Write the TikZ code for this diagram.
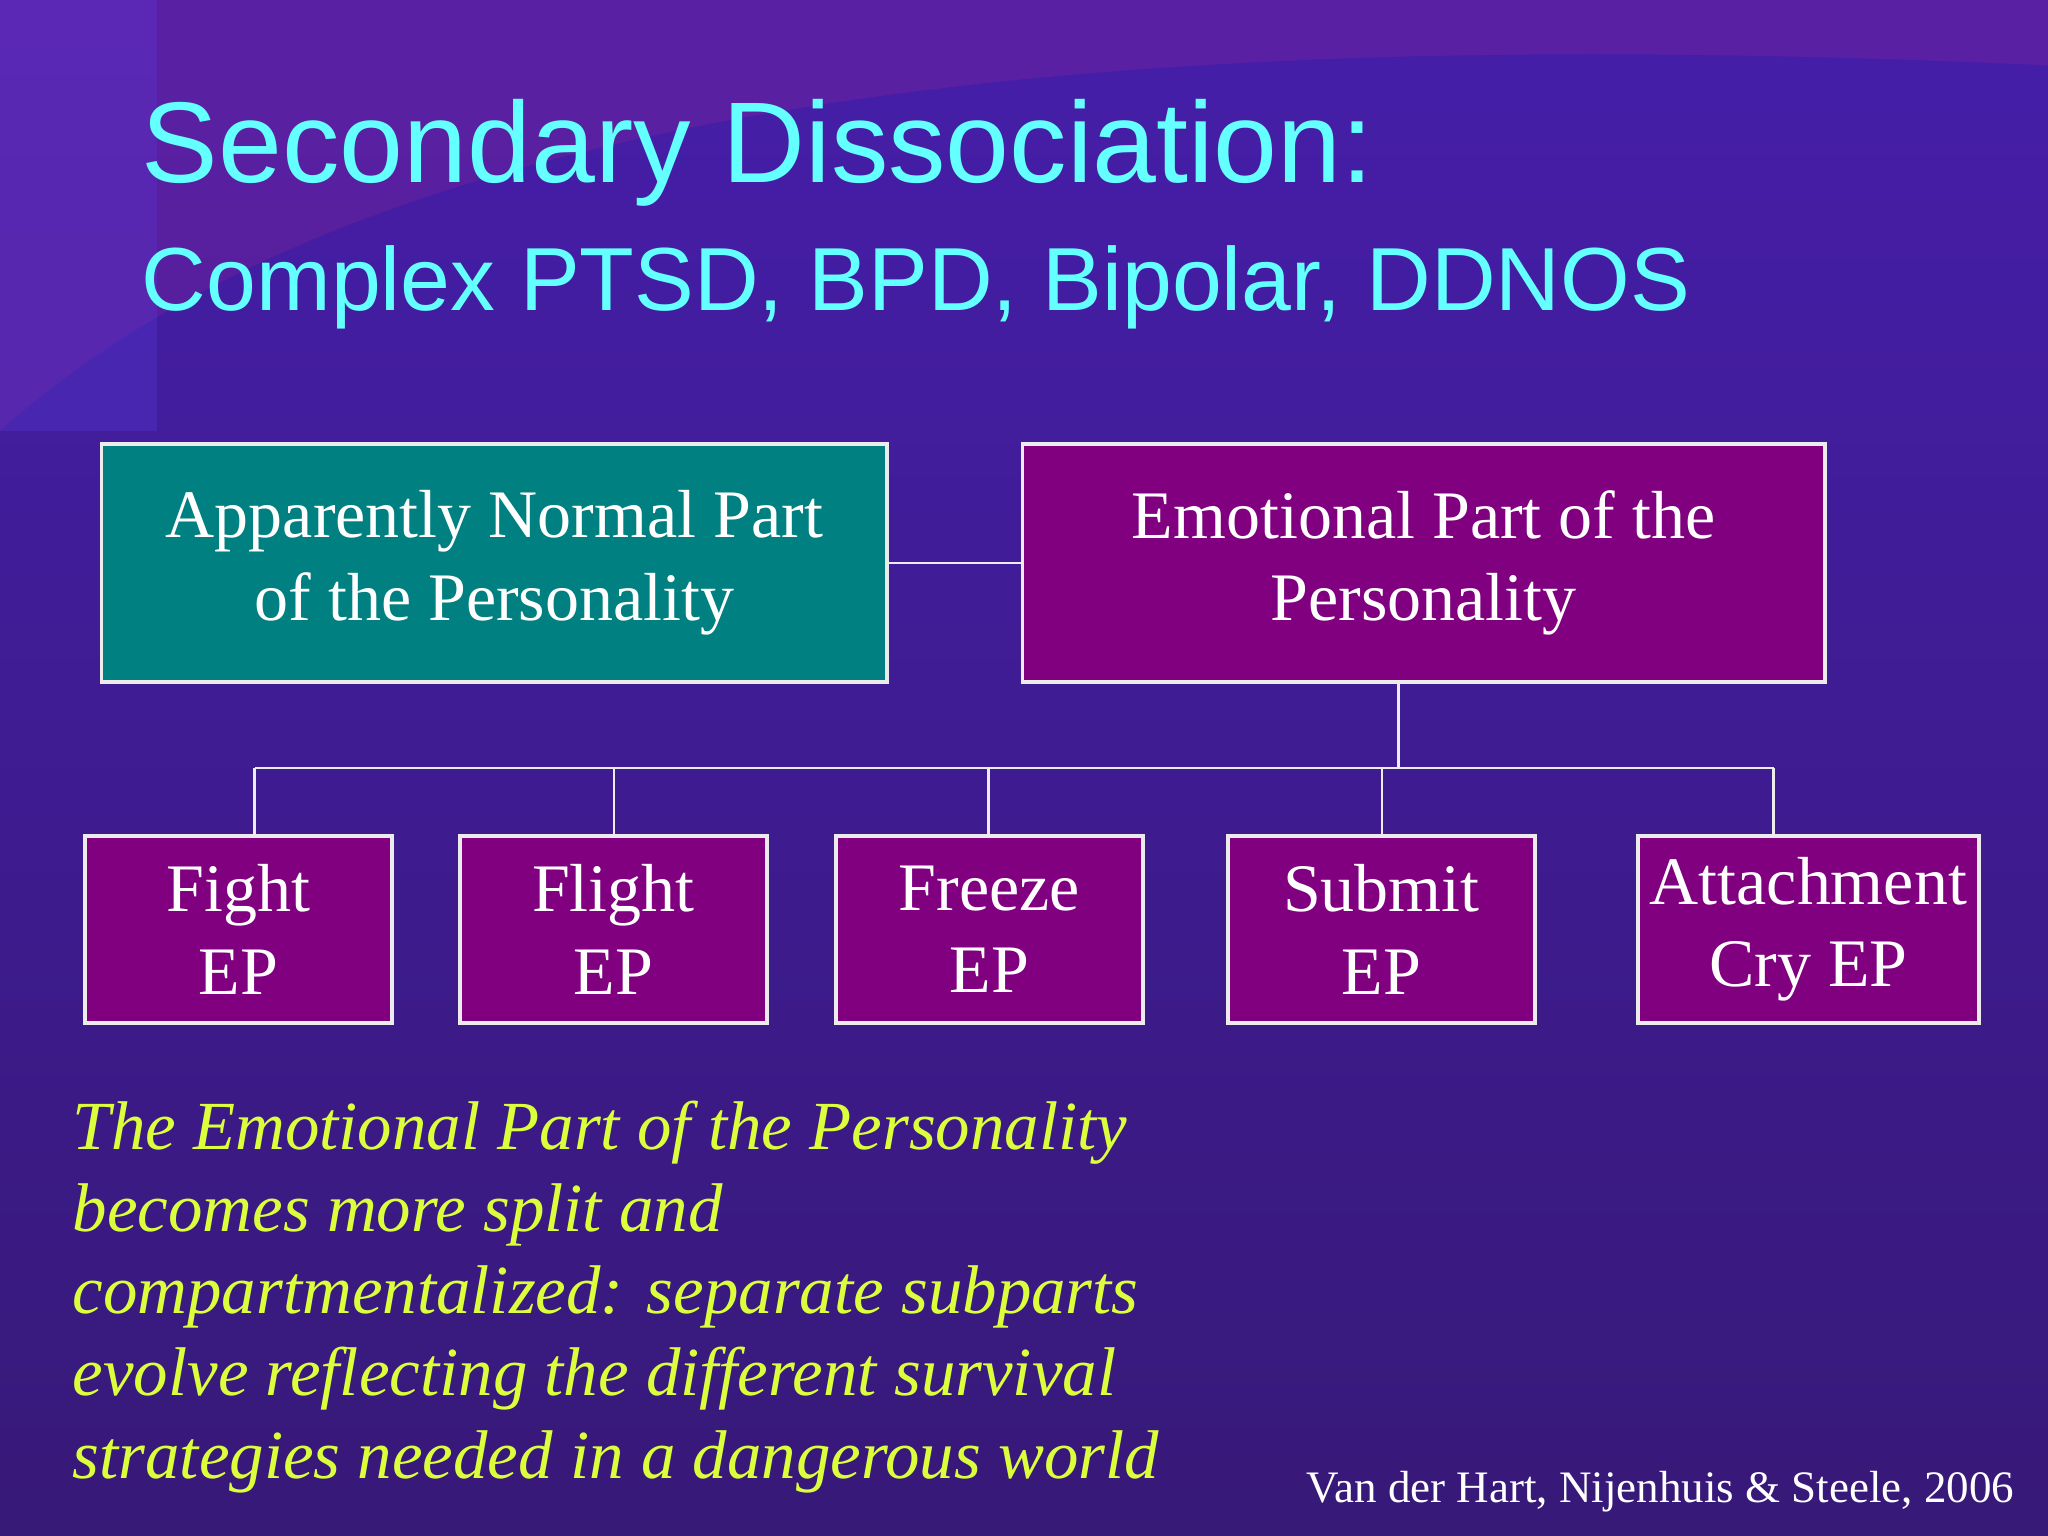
\documentclass[tikz,border=0pt]{standalone}
\usepackage{fontspec}
\setmainfont{Liberation Serif}
\newfontfamily\titlefont{Liberation Sans}
\begin{document}
\begin{tikzpicture}[x=0.01cm,y=-0.01cm,
  box/.style={draw=white!85!gray,line width=0.8pt,fill=epcol,text=white,align=center,inner sep=0pt,font=\fontsize{14.8}{18}\selectfont},
  conn/.style={draw=white!85!gray,line width=0.6pt}]
\definecolor{epcol}{RGB}{128,0,128}
\definecolor{anpcol}{RGB}{0,128,128}
\definecolor{cyantitle}{RGB}{100,255,255}
\definecolor{yel}{RGB}{220,255,60}
\definecolor{bgtop}{RGB}{70,30,170}
\definecolor{bgbot}{RGB}{55,25,120}
\definecolor{swoosh}{RGB}{150,40,150}
\definecolor{leftblue}{RGB}{90,60,220}
\useasboundingbox (0,0) rectangle (1568,1176);
\shade[top color=bgtop, bottom color=bgbot] (0,0) rectangle (1568,1176);
\fill[opacity=0.25,swoosh] (0,330) .. controls (300,60) and (900,20) .. (1568,50) -- (1568,0) -- (0,0) -- cycle;
\fill[opacity=0.3,leftblue] (0,0) rectangle (120,330);
\node[anchor=base west,text=cyantitle,font=\titlefont\fontsize{25}{30}\selectfont,inner sep=0pt] (t1) at (108,140) {Secondary Dissociation:};
\node[anchor=base west,text=cyantitle,font=\titlefont\fontsize{19.5}{24}\selectfont,inner sep=0pt] (t2) at (108,238) {Complex PTSD, BPD, Bipolar, DDNOS};
\node[box,fill=anpcol,minimum width=6.01cm,minimum height=1.82cm] (anp) at (378.5,431) {Apparently Normal Part\\of the Personality};
\node[box,minimum width=6.14cm,minimum height=1.82cm] (ep) at (1090,431) {Emotional Part of the\\Personality};
\draw[conn] (anp.east) -- (ep.west);
\node[box,minimum width=2.35cm,minimum height=1.43cm] (fight) at (182.5,711.5) {Fight\\EP};
\node[box,minimum width=2.35cm,minimum height=1.43cm] (flight) at (469.5,711.5) {Flight\\EP};
\node[box,minimum width=2.35cm,minimum height=1.43cm] (freeze) at (757.5,711.5) {Freeze\\EP};
\node[box,minimum width=2.35cm,minimum height=1.43cm] (submit) at (1057.5,711.5) {Submit\\EP};
\node[box,minimum width=2.61cm,minimum height=1.43cm] (attach) at (1384.5,711.5) {Attachment\\Cry EP};
\coordinate (bl) at (195,588);
\coordinate (br) at (1358,588);
\draw[conn] (bl) -- (br);
\draw[conn] (ep.south -| 1071,0) -- (1071,588);
\draw[conn] (195,588) -- (fight.north -| 195,0);
\draw[conn] (470,588) -- (flight.north -| 470,0);
\draw[conn] (757,588) -- (freeze.north -| 757,0);
\draw[conn] (1058,588) -- (submit.north -| 1058,0);
\draw[conn] (1358,588) -- (attach.north -| 1358,0);
\node[anchor=north west,align=left,text=yel,font=\itshape\fontsize{15}{17.9}\selectfont,inner sep=0pt] (txt) at (55,842) {The Emotional Part of the Personality\\becomes more split and\\compartmentalized: separate subparts\\evolve reflecting the different survival\\strategies needed in a dangerous world};
\node[anchor=base east,text=white,font=\fontsize{9.8}{12}\selectfont,inner sep=0pt] (cite) at (1543,1150) {Van der Hart, Nijenhuis \& Steele, 2006};
\end{tikzpicture}
\end{document}
